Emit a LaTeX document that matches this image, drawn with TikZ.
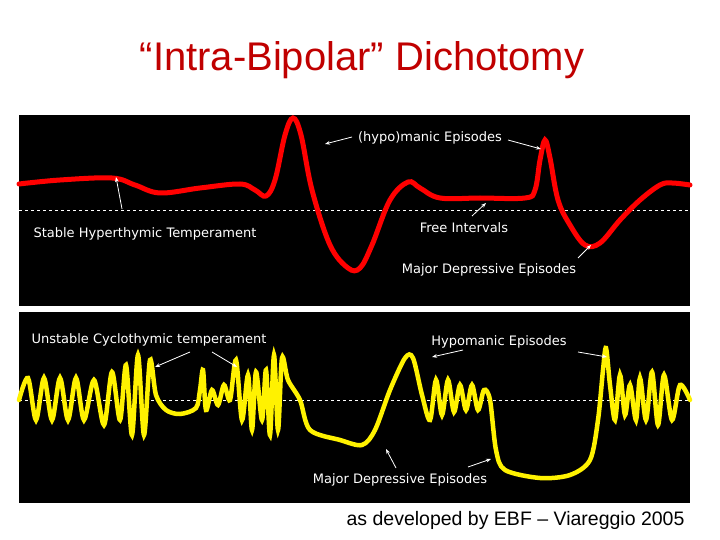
\documentclass[tikz,border=0pt]{standalone}
\usepackage{fontspec}
\setmainfont{Liberation Sans}
\newfontfamily\lbl{DejaVu Sans}
\usetikzlibrary{arrows.meta}
\definecolor{ttl}{RGB}{192,0,0}
\begin{document}
\begin{tikzpicture}[x=1pt,y=-1pt,
  lab/.style={text=white,font=\lbl\fontsize{13}{15}\selectfont,inner sep=0pt},
  arr/.style={white,thick,-{Stealth[length=5pt]}},
  base/.style={white,dashed,line width=0.6pt}]
\useasboundingbox (0,0) rectangle (720,540);
\node[text=ttl,font=\fontsize{40}{44}\selectfont] (title) at (362,60) {“Intra-Bipolar” Dichotomy};
\fill[black] (19,115) rectangle (690,306);
\fill[black] (19,312) rectangle (690,503);
\draw[base] (19,210) -- (690,210);
\draw[base] (19,400) -- (690,400);
% red curve
\draw[red,line width=5pt,line cap=round] plot[smooth,tension=0.6] coordinates{
(19,184)(60,180)(112,178)(135,185)(160,193)(200,188)(240,184)(255,190)(266,196)(275,180)(285,135)(293,118)(301,135)(312,190)(330,245)(348,268)(360,268)(372,245)(390,200)(408,182)(420,188)(440,198)(480,198)(525,198)(535,190)(540,160)(545,140)(550,158)(558,200)(570,225)(585,245)(600,243)(620,220)(640,200)(660,185)(672,183)(690,185)};
% yellow curve
\draw[yellow,line width=4.5pt,line cap=round] plot[smooth,tension=0.5] coordinates{
(19,400)(28,378)(36,420)(44,378)(52,420)(60,378)(68,420)(76,378)(84,420)(94,380)(104,425)(112,372)(120,420)(126,365)(132,435)(138,355)(144,435)(150,360)(156,395)(166,410)(180,414)(196,408)(200,390)(203,370)(206,410)(212,390)(218,405)(224,385)(230,400)(236,360)(242,420)(248,375)(252,430)(256,372)(262,420)(266,370)(270,435)(274,355)(278,430)(282,358)(288,380)(300,400)(310,430)(340,440)(362,445)(375,430)(390,390)(405,358)(413,358)(422,395)(430,420)(436,380)(442,415)(448,380)(454,412)(460,385)(466,410)(472,385)(478,410)(484,390)(490,400)(496,450)(505,470)(540,478)(570,475)(590,460)(598,420)(603,370)(606,348)(610,385)(615,420)(620,375)(625,415)(630,385)(636,420)(640,378)(646,420)(652,372)(658,425)(664,375)(672,420)(680,385)(690,400)};
% top labels
\node[lab] (hm) at (430,138) {(hypo)manic Episodes};
\node[lab] (sh) at (145,234) {Stable Hyperthymic Temperament};
\node[lab] (fi) at (464,228) {Free Intervals};
\node[lab] (md1) at (489,270) {Major Depressive Episodes};
\coordinate (a1) at (325,144); \coordinate (a2) at (541,149);
\coordinate (a3) at (116,177); \coordinate (a4) at (486,203);
\coordinate (a5) at (591,245);
\draw[arr] (352,137) -- (a1);
\draw[arr] (508,140) -- (a2);
\draw[arr] (122,209) -- (a3);
\draw[arr] (472,216) -- (a4);
\draw[arr] (578,258) -- (a5);
% bottom labels
\node[lab] (uc) at (149,340) {Unstable Cyclothymic temperament};
\node[lab] (hy) at (499,342) {Hypomanic Episodes};
\node[lab] (md2) at (400,480) {Major Depressive Episodes};
\coordinate (b1) at (155,367); \coordinate (b2) at (237,367);
\coordinate (b3) at (432,357); \coordinate (b4) at (607,357);
\coordinate (b5) at (386,449); \coordinate (b6) at (491,459);
\draw[arr] (190,352) -- (b1);
\draw[arr] (212,352) -- (b2);
\draw[arr] (463,350) -- (b3);
\draw[arr] (578,352) -- (b4);
\draw[arr] (396,468) -- (b5);
\draw[arr] (468,467) -- (b6);
\node[font=\fontsize{19.5}{22}\selectfont,anchor=east] (ft) at (688,520) {as developed by EBF – Viareggio 2005};
\end{tikzpicture}
\end{document}
